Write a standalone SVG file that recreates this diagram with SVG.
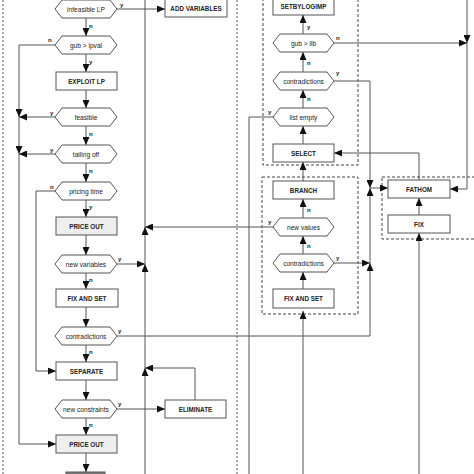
<svg xmlns="http://www.w3.org/2000/svg" width="474" height="474" viewBox="0 0 474 474">
<defs>
<marker id="ah" markerWidth="8" markerHeight="7" refX="8" refY="3.5" orient="auto" markerUnits="userSpaceOnUse">
<path d="M0,0 L8,3.5 L0,7 Z" fill="#111"/>
</marker>
<style>
.bx{fill:#fff;stroke:#555;stroke-width:1}
.gr{fill:#eeeeee;stroke:#555;stroke-width:1}
.dk{fill:#7a7a7a;stroke:#555;stroke-width:1}
.hx{fill:#fff;stroke:#555;stroke-width:1}
.bt{font-family:"Liberation Sans",Arial,sans-serif;font-size:6.3px;font-weight:bold;fill:#222;text-anchor:middle}
.ht{font-family:"Liberation Sans",Arial,sans-serif;font-size:6.6px;fill:#222;text-anchor:middle}
.lb{font-family:"Liberation Sans",Arial,sans-serif;font-size:6px;font-weight:bold;fill:#222}
.c{fill:none;stroke:#555;stroke-width:1}
.ca{fill:none;stroke:#555;stroke-width:1;marker-end:url(#ah)}
.dash{fill:none;stroke:#444;stroke-width:1;stroke-dasharray:3 2}
.dot{fill:none;stroke:#aaa;stroke-width:2;stroke-dasharray:2 2}
</style>
</defs>
<rect width="474" height="474" fill="#fff"/>

<g id="borders">
<line class="dot" x1="3" y1="0" x2="3" y2="474"/>
<line class="dot" x1="237" y1="0" x2="237" y2="474"/>
<rect class="dash" x="263" y="-6" width="95" height="171"/>
<rect class="dash" x="262" y="177" width="96" height="137"/>
<rect class="dash" x="382" y="177" width="100" height="62"/>
</g>

<g id="connectors">
<!-- left column -->
<path class="ca" d="M86,18 V36"/>
<path class="ca" d="M117,9 H165"/>
<path class="ca" d="M55,45 H19 V117"/>
<path class="ca" d="M19,117 V154"/>
<path class="ca" d="M19,154 V444 H56"/>
<path class="ca" d="M86,54 V72"/>
<path class="ca" d="M86,90 V108"/>
<path class="ca" d="M55,117 H19"/>
<path class="ca" d="M86,126 V145"/>
<path class="ca" d="M55,154 H19"/>
<path class="ca" d="M86,163 V182"/>
<path class="ca" d="M55,191 H36 V371 H56"/>
<path class="ca" d="M86,200 V217"/>
<path class="ca" d="M86,235 V255"/>
<path class="ca" d="M117,264 H145"/>
<path class="ca" d="M86,273 V289"/>
<path class="ca" d="M86,307 V327"/>
<path class="ca" d="M117,336 H370 V263"/>
<path class="ca" d="M370,263 V188"/>
<path class="ca" d="M86,345 V362"/>
<path class="ca" d="M86,380 V400"/>
<path class="ca" d="M117,409 H165"/>
<path class="ca" d="M86,418 V435"/>
<path class="ca" d="M86,453 V472"/>
<path class="ca" d="M195,400 V368 H145"/>
<path class="ca" d="M145,480 V368"/>
<path class="ca" d="M145,368 V264"/>
<path class="ca" d="M145,264 V227"/>
<path class="c" d="M145,227 V-5"/>
<!-- middle column -->
<path class="ca" d="M303,34 V15"/>
<path class="ca" d="M334,43 H467"/>
<path class="ca" d="M467,-5 V43"/>
<path class="ca" d="M467,43 V189 H450"/>
<path class="ca" d="M303,72 V52"/>
<path class="ca" d="M334,81 H370 V188"/>
<path class="ca" d="M303,108 V90"/>
<path class="c" d="M273,117 H249 V480"/>
<path class="ca" d="M303,144 V126"/>
<path class="ca" d="M419,180 V153 H334"/>
<path class="ca" d="M303,181 V162"/>
<path class="ca" d="M303,218 V199"/>
<path class="ca" d="M273,227 H145"/>
<path class="ca" d="M303,254 V236"/>
<path class="ca" d="M334,263 H370"/>
<path class="ca" d="M303,289 V272"/>
<path class="ca" d="M303,480 V311"/>
<path class="ca" d="M370,188 H388"/>
<path class="ca" d="M419,215 V198"/>
<path class="ca" d="M419,480 V233"/>
</g>

<g id="labels">
<text class="lb" x="120" y="7">y</text>
<text class="lb" x="89" y="28">n</text>
<text class="lb" x="48" y="42">n</text>
<text class="lb" x="89" y="64">y</text>
<text class="lb" x="50" y="115">y</text>
<text class="lb" x="89" y="136">n</text>
<text class="lb" x="50" y="152">y</text>
<text class="lb" x="89" y="173">n</text>
<text class="lb" x="50" y="189">n</text>
<text class="lb" x="89" y="209">y</text>
<text class="lb" x="118" y="261">y</text>
<text class="lb" x="89" y="282">n</text>
<text class="lb" x="118" y="333">y</text>
<text class="lb" x="89" y="354">n</text>
<text class="lb" x="118" y="406">y</text>
<text class="lb" x="89" y="427">n</text>
<text class="lb" x="307" y="29">y</text>
<text class="lb" x="336" y="40">n</text>
<text class="lb" x="307" y="65">n</text>
<text class="lb" x="336" y="75">y</text>
<text class="lb" x="307" y="101">n</text>
<text class="lb" x="268" y="114">y</text>
<text class="lb" x="307" y="212">n</text>
<text class="lb" x="268" y="224">y</text>
<text class="lb" x="307" y="248">n</text>
<text class="lb" x="336" y="260">y</text>
</g>

<!-- left column nodes -->
<g id="infeasibleLP"><polygon class="hx" points="55,9 62,0 110,0 117,9 110,18 62,18"/><text class="ht" x="86" y="11.5">infeasible LP</text></g>
<g id="addVariables"><rect class="bx" x="165" y="-1" width="62" height="18"/><text class="bt" x="196" y="10.5">ADD VARIABLES</text></g>
<g id="gubLpval"><polygon class="hx" points="55,45 62,36 110,36 117,45 110,54 62,54"/><text class="ht" x="86" y="47.5">gub &gt; lpval</text></g>
<g id="exploitLP"><rect class="bx" x="56" y="72" width="61" height="18"/><text class="bt" x="86.5" y="83.5">EXPLOIT LP</text></g>
<g id="feasible"><polygon class="hx" points="55,117 62,108 110,108 117,117 110,126 62,126"/><text class="ht" x="86" y="119.5">feasible</text></g>
<g id="tailingOff"><polygon class="hx" points="55,154 62,145 110,145 117,154 110,163 62,163"/><text class="ht" x="86" y="156.5">tailing off</text></g>
<g id="pricingTime"><polygon class="hx" points="55,191 62,182 110,182 117,191 110,200 62,200"/><text class="ht" x="86" y="193.5">pricing time</text></g>
<g id="priceOut1"><rect class="gr" x="56" y="217" width="61" height="18"/><text class="bt" x="86.5" y="228.5">PRICE OUT</text></g>
<g id="newVariables"><polygon class="hx" points="55,264 62,255 110,255 117,264 110,273 62,273"/><text class="ht" x="86" y="266.5">new variables</text></g>
<g id="fixAndSet1"><rect class="bx" x="56" y="289" width="62" height="18"/><text class="bt" x="87" y="300.5">FIX AND SET</text></g>
<g id="contradictions1"><polygon class="hx" points="55,336 62,327 110,327 117,336 110,345 62,345"/><text class="ht" x="86" y="338.5">contradictions</text></g>
<g id="separate"><rect class="bx" x="56" y="362" width="61" height="18"/><text class="bt" x="86.5" y="373.5">SEPARATE</text></g>
<g id="newConstraints"><polygon class="hx" points="55,409 62,400 110,400 117,409 110,418 62,418"/><text class="ht" x="86" y="411.5">new constraints</text></g>
<g id="eliminate"><rect class="bx" x="165" y="400" width="61" height="18"/><text class="bt" x="195.5" y="411.5">ELIMINATE</text></g>
<g id="priceOut2"><rect class="gr" x="56" y="435" width="61" height="18"/><text class="bt" x="86.5" y="446.5">PRICE OUT</text></g>
<g id="darkBox"><rect class="dk" x="66" y="472" width="39" height="18"/></g>

<!-- middle column nodes -->
<g id="setbylogimp"><rect class="bx" x="273" y="-3" width="61" height="18"/><text class="bt" x="303.5" y="8.5">SETBYLOGIMP</text></g>
<g id="gubLlb"><polygon class="hx" points="273,43 280,34 327,34 334,43 327,52 280,52"/><text class="ht" x="303.5" y="45.5">gub &gt; llb</text></g>
<g id="contradictions2"><polygon class="hx" points="273,81 280,72 327,72 334,81 327,90 280,90"/><text class="ht" x="303.5" y="83.5">contradictions</text></g>
<g id="listEmpty"><polygon class="hx" points="273,117 280,108 327,108 334,117 327,126 280,126"/><text class="ht" x="303.5" y="119.5">list empty</text></g>
<g id="select"><rect class="bx" x="273" y="144" width="61" height="18"/><text class="bt" x="303.5" y="155.5">SELECT</text></g>
<g id="branch"><rect class="bx" x="273" y="181" width="61" height="18"/><text class="bt" x="303.5" y="192.5">BRANCH</text></g>
<g id="newValues"><polygon class="hx" points="273,227 280,218 327,218 334,227 327,236 280,236"/><text class="ht" x="303.5" y="229.5">new values</text></g>
<g id="contradictions3"><polygon class="hx" points="273,263 280,254 327,254 334,263 327,272 280,272"/><text class="ht" x="303.5" y="265.5">contradictions</text></g>
<g id="fixAndSet2"><rect class="bx" x="273" y="289" width="61" height="19"/><text class="bt" x="303.5" y="300.5">FIX AND SET</text></g>

<!-- right nodes -->
<g id="fathom"><rect class="bx" x="388" y="180" width="62" height="18"/><text class="bt" x="419" y="191.5">FATHOM</text></g>
<g id="fix"><rect class="bx" x="388" y="215" width="62" height="18"/><text class="bt" x="419" y="226.5">FIX</text></g>
</svg>
